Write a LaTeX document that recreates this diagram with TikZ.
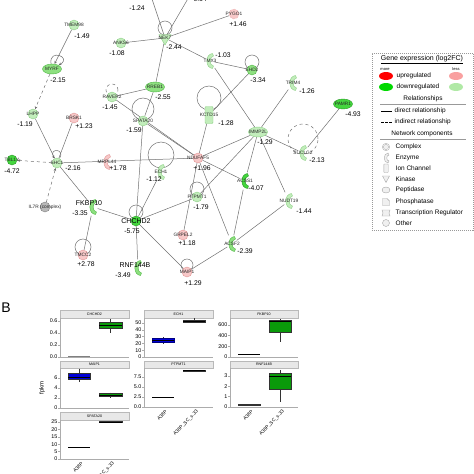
\documentclass[tikz,border=0pt]{standalone}
\usepackage{fontspec}
\setmainfont{Liberation Sans}
\usetikzlibrary{positioning,shapes.geometric,arrows.meta,backgrounds}
\definecolor{lg}{HTML}{C2EDBB}
\definecolor{lgd}{HTML}{8CCF85}
\definecolor{mg}{HTML}{8EE080}
\definecolor{mgd}{HTML}{4FB545}
\definecolor{dg}{HTML}{44D63E}
\definecolor{dgd}{HTML}{2A9A26}
\definecolor{pk}{HTML}{F7C8C8}
\definecolor{pkd}{HTML}{E09494}
\definecolor{lnc}{HTML}{707070}
\definecolor{blu}{HTML}{0000D8}
\definecolor{grn}{HTML}{0A9A0A}

\begin{document}
\begin{tikzpicture}[x=1pt, y=-1pt,
    >={Stealth[length=3pt,width=2.6pt]},
    lnk/.style={draw=lnc, line width=0.5pt},
    up1/.style={fill=pk, draw=pkd},
    dn1/.style={fill=lg, draw=lgd},
    dn2/.style={fill=mg, draw=mgd},
    dn3/.style={fill=dg, draw=dgd},
    cpx/.style={fill=gray!55, draw=gray},
    gtxt/.style={font=\fontsize{4.8}{5}\selectfont, text=black!85, inner sep=0pt},
    btxt/.style={font=\fontsize{7}{8}\selectfont, inner sep=0pt},
    val/.style={font=\fontsize{6.8}{8}\selectfont, inner sep=0pt},
    oth/.style={circle, minimum size=10pt, inner sep=0pt, line width=0.4pt},
    pep/.style={ellipse, minimum width=19pt, minimum height=10pt, inner sep=0pt, line width=0.4pt},
    ion/.style={rectangle, rounded corners=1pt, minimum width=8pt, minimum height=17pt, inner sep=0pt, line width=0.4pt},
    kin/.style={regular polygon, regular polygon sides=3, shape border rotate=180, minimum size=14pt, inner sep=0pt, line width=0.4pt},
    enz/.style={rectangle, minimum width=9pt, minimum height=17pt, inner sep=0pt,
      path picture={\filldraw[#1, line width=0.4pt, shift={(path picture bounding box.center)}]
        (2.5,7.5) .. controls (-5,7) and (-5,-7) .. (2.5,-7.5) -- (3.5,-5) .. controls (-1,-4.5) and (-1,4.5) .. (3.5,5) -- cycle;}},
    ltxt/.style={font=\fontsize{6.5}{7}\selectfont, inner sep=0.5pt},
    icon/.style={draw=gray!70, fill=gray!12, line width=0.4pt},
    strip/.style={fill=gray!18, draw=gray!55, line width=0.4pt},
    stxt/.style={font=\fontsize{3.6}{4}\selectfont, inner sep=0pt},
    axl/.style={draw=gray!65, line width=0.5pt},
    tkl/.style={font=\fontsize{5.4}{6}\selectfont, anchor=east, inner sep=0.5pt},
    xlab/.style={font=\fontsize{4.8}{5}\selectfont, rotate=45, anchor=north east, inner sep=0.3pt},
    bx/.style={draw=black!80, line width=0.35pt},
    med/.style={draw=black, line width=0.9pt}
  ]
  \useasboundingbox (0,0) rectangle (474,474);

  % network genes
  \node[oth, dn1] (topa) at (150,-7) {};
  \node[val] (topav) at (137,8) {-1.24};
  \node[oth, dn1] (topb) at (193,-10) {};
  \node[val] (topbv) at (199,-1) {-0.64};
  \node[oth, dn1, label={[gtxt]center:TMEM98}] (tmem) at (74,25) {};
  \node[val] (tmemv) at (82,36) {-1.49};
  \node[pep, dn2, label={[gtxt]center:MYRF}] (myrf) at (52,69) {};
  \node[val] (myrfv) at (58,80) {-2.15};
  \node[oth, dn1, label={[gtxt]center:LHPP}] (lhpp) at (33,114) {};
  \node[val] (lhppv) at (25,124) {-1.19};
  \node[oth, up1, label={[gtxt]center:BRSK1}] (brsk) at (74,118) {};
  \node[val] (brskv) at (84,126) {+1.23};
  \node[oth, dn1, label={[gtxt]center:ANKS6}] (anks) at (121,43) {};
  \node[val] (anksv) at (117,53) {-1.08};
  \node[oth, dn1, label={[gtxt]center:RAVER2}] (raver) at (112,97) {};
  \node[val] (raverv) at (110,107) {-1.45};
  \node[oth, dn1, label={[gtxt]center:SPATA20}] (spata) at (143,121) {};
  \node[val] (spatav) at (134,130) {-1.59};
  \node[pep, dn2, label={[gtxt]center:RREB1}] (rreb) at (155,87) {};
  \node[val] (rrebv) at (163,97) {-2.55};
  \node[kin, dn1, label={[gtxt]center:NEK7}] (nek) at (165,38) {};
  \node[val] (nekv) at (174,47) {-2.44};
  \node[oth, up1, densely dotted, label={[gtxt]center:PYGO1}] (pygo) at (234,14) {};
  \node[val] (pygov) at (238,24) {+1.46};
  \node[enz=dn1, label={[gtxt]center:TMX3}] (tmx) at (210,61) {};
  \node[val] (tmxv) at (223,55) {-1.03};
  \node[oth, dn2, label={[gtxt]center:EHD2}] (ehd) at (252,70) {};
  \node[val] (ehdv) at (258,80) {-3.34};
  \node[enz=dn1, label={[gtxt]center:TRIM4}] (trim) at (293,83) {};
  \node[val] (trimv) at (307,91) {-1.26};
  \node[ion, dn1, label={[gtxt]center:KCTD15}] (kctd) at (209,115) {};
  \node[val] (kctdv) at (226,123) {-1.28};
  \node[pep, dn1, label={[gtxt]center:IMMP2L}] (immp) at (258,132) {};
  \node[val] (immpv) at (265,142) {-1.29};
  \node[enz=dn1, label={[gtxt]center:SUCLG2}] (sucl) at (303,153) {};
  \node[val] (suclv) at (317,160) {-2.13};
  \node[pep, dn3, label={[gtxt]center:PAMR1}] (pamr) at (343,104) {};
  \node[val] (pamrv) at (353,114) {-4.93};
  \node[oth, up1, label={[gtxt]center:NDUFAF5}] (nduf) at (198,158) {};
  \node[val] (ndufv) at (202,168) {+1.96};
  \node[enz=dn1, label={[gtxt]center:ECH1}] (ech) at (161,172) {};
  \node[val] (echv) at (154,179) {-1.12};
  \node[enz=dn3, label={[gtxt]center:ACSS1}] (acss) at (245,181) {};
  \node[val] (acssv) at (256,188) {-4.07};
  \node[oth, dn1, label={[gtxt]center:PTPMT1}] (ptpm) at (197,197) {};
  \node[val] (ptpmv) at (201,207) {-1.79};
  \node[enz=dn1, label={[gtxt]center:NUDT19}] (nudt) at (289,201) {};
  \node[val] (nudtv) at (304,211) {-1.44};
  \node[oth, up1, label={[gtxt]center:GRPEL2}] (grpe) at (183,235) {};
  \node[val] (grpev) at (187,243) {+1.18};
  \node[enz=dn2, label={[gtxt]center:ACSF2}] (acsf) at (232,244) {};
  \node[val] (acsfv) at (245,251) {-2.39};
  \node[oth, up1, label={[gtxt]center:MAIP1}] (maip) at (187,272) {};
  \node[val] (maipv) at (193,283) {+1.29};
  \node[oth, dn3, label={[gtxt]center:TBL1Y}] (tbl) at (12,160) {};
  \node[val] (tblv) at (12,171) {-4.72};
  \node[oth, dn1, label={[gtxt]center:SHC1}] (shc) at (57,163) {};
  \node[val] (shcv) at (73,168) {-2.16};
  \node[enz=up1, label={[gtxt]center:MRPL44}] (mrpl) at (107,162) {};
  \node[val] (mrplv) at (118,168) {+1.78};
  \node[oth, cpx, label={[gtxt]center:IL7R (complex)}] (il7r) at (45,207) {};
  \node[enz=dn2, label={[btxt, xshift=-4pt, yshift=4pt]center:FKBP10}] (fkbp) at (93,207) {};
  \node[val] (fkbpv) at (80,213) {-3.35};
  \node[oth, dn3, label={[btxt]center:CHCHD2}] (chch) at (136,221) {};
  \node[val] (chchv) at (132,231) {-5.75};
  \node[oth, up1, label={[gtxt]center:TMCC2}] (tmcc) at (83,255) {};
  \node[val] (tmccv) at (86,264) {+2.78};
  \node[enz=dn2, label={[btxt, xshift=-3pt, yshift=3pt]center:RNF144B}] (rnf) at (138,268) {};
  \node[val] (rnfv) at (123,275) {-3.49};

  \begin{scope}[on background layer]
    \path[lnk] (topa) edge (nek)
      (topb) edge (nek)
      (nek) edge (anks)
      (nek) edge (pygo)
      (nek) edge (tmx)
      (nek) edge (rreb)
      (rreb) edge (raver)
      (rreb) edge (spata)
      (tmx) edge (ehd)
      (tmx) edge (immp)
      (ehd) edge (kctd)
      (trim) edge (immp)
      (kctd) edge (nduf)
      (immp) edge (sucl)
      (immp) edge (nduf)
      (immp) edge (ptpm)
      (immp) edge (acss)
      (immp) edge (nudt)
      (sucl) edge (pamr)
      (raver) edge (nduf)
      (spata) edge (nduf)
      (spata) edge (chch)
      (shc) edge (nduf)
      (nduf) edge (acss)
      (nduf) edge (acsf)
      (nduf) edge (grpe)
      (acss) edge (acsf)
      (acsf) edge (maip)
      (acsf) edge (nudt)
      (ech) edge (chch)
      (ptpm) edge (chch)
      (chch) edge (maip)
      (chch) edge (rnf)
      (chch) edge (fkbp)
      (fkbp) edge (shc)
      (fkbp) edge (tmcc)
      (lhpp) edge (shc)
      (brsk) edge (shc);
    \path[lnk, ->] (tmem) edge (myrf)
      (myrf) edge[out=100, in=30, min distance=16pt] (myrf)
      (shc) edge[out=60, in=120, min distance=12pt] (shc);
    \path[lnk, dashed, ->] (myrf) edge (lhpp)
      (shc) edge (tbl)
      (il7r) edge (shc);
    % self loops
    \draw[lnk] ([yshift=10pt]nek.center) circle (7pt);
    \draw[lnk] ([yshift=8pt]ehd.center) circle (7pt);
    \draw[lnk] ([yshift=17pt]kctd.center) circle (12pt);
    \draw[lnk] ([yshift=12pt]spata.center) circle (11pt);
    \draw[lnk, dashed] ([yshift=7pt]raver.center) circle (6pt);
    \draw[lnk, dashed] ([yshift=14pt]sucl.center) circle (15pt);
    \draw[lnk] ([yshift=17pt]ech.center) circle (13pt);
    \draw[lnk] ([yshift=8pt]ptpm.center) circle (7pt);
    \draw[lnk] ([yshift=7pt]maip.center) circle (6pt);
    \draw[lnk] ([yshift=9pt]chch.center) circle (7pt);
    \draw[lnk] ([yshift=8pt]tmcc.center) circle (8pt);
  \end{scope}

  % legend
  \node[draw=gray!80, dash pattern=on 1pt off 1pt, minimum width=101pt, minimum height=177pt, anchor=north west, inner sep=0pt] (legend) at (372,53) {};
  \node[ltxt, font=\fontsize{7}{8}\selectfont] (lgtitle) at (422,60) {\underline{Gene expression (log2FC)}};
  \node[ltxt, font=\fontsize{4}{4}\selectfont] (lgmore) at (385,69) {more};
  \node[ltxt, font=\fontsize{4}{4}\selectfont] (lgless) at (456,69) {less};
  \node[ellipse, fill=red, minimum width=14pt, minimum height=8pt, inner sep=0pt] (lgred) at (386,76) {};
  \node[ltxt, anchor=west] (lgup) at (396,76) {upregulated};
  \node[ellipse, fill=pk!80!red, minimum width=14pt, minimum height=8pt, inner sep=0pt] (lgpink) at (456,76) {};
  \node[ellipse, fill=green!85!black, minimum width=14pt, minimum height=8pt, inner sep=0pt] (lggreen) at (386,87) {};
  \node[ltxt, anchor=west] (lgdown) at (396,87) {downregulated};
  \node[ellipse, fill=mg!70!white, minimum width=14pt, minimum height=8pt, inner sep=0pt] (lglight) at (456,87) {};
  \node[ltxt] (lgrel) at (423,99) {Relationships};
  \draw[gray!80] (380,104) -- (466,104);
  \coordinate (dirA) at (381,111);
  \coordinate (dirB) at (392,111);
  \draw[line width=0.7pt] (dirA) -- (dirB);
  \node[ltxt, anchor=west] (lgdir) at (394,111) {direct relationship};
  \coordinate (indA) at (381,122);
  \coordinate (indB) at (392,122);
  \draw[line width=0.7pt, dash pattern=on 2.5pt off 1.5pt] (indA) -- (indB);
  \node[ltxt, anchor=west] (lgind) at (394,122) {indirect relationship};
  \node[ltxt] (lgnet) at (422,134) {Network components};
  \draw[gray!80] (380,139) -- (466,139);
  \draw[icon, double=white, double distance=0.5pt] (386,147) circle (3.2pt);
  \node[ltxt, anchor=west] (lgcpx) at (395,147) {Complex};
  \draw[icon] (388,153) .. controls (383,153.5) and (383,162.5) .. (388,163) -- (389,161) .. controls (386,161) and (386,155) .. (389,155) -- cycle;
  \node[ltxt, anchor=west] (lgenz) at (395,158) {Enzyme};
  \draw[icon, rounded corners=0.6pt] (383.8,164) rectangle (388.2,172.5);
  \node[ltxt, anchor=west] (lgion) at (395,168) {Ion Channel};
  \draw[icon] (382.5,176) -- (389.5,176) -- (386,182.5) -- cycle;
  \node[ltxt, anchor=west] (lgkin) at (395,179) {Kinase};
  \draw[icon] (386,190) ellipse (4pt and 3pt);
  \node[ltxt, anchor=west] (lgpep) at (395,190) {Peptidase};
  \draw[icon] (382.5,198.5) -- (387,198.5) -- (389.5,201) -- (389.5,205.5) -- (382.5,205.5) -- cycle;
  \node[ltxt, anchor=west] (lgpho) at (395,202) {Phosphatase};
  \draw[icon] (382,210) -- (390,210) -- (389,213) -- (390,216) -- (382,216) -- (383,213) -- cycle;
  \node[ltxt, anchor=west] (lgtr) at (395,213) {Transcription Regulator};
  \draw[icon] (386,223) circle (3.5pt);
  \node[ltxt, anchor=west] (lgoth) at (395,223) {Other};

  % panel B
  \node[font=\fontsize{14}{14}\selectfont, inner sep=0pt] (panelB) at (6,308) {B};
  \node[font=\fontsize{6}{7}\selectfont, rotate=90, inner sep=0pt] (fpkm) at (42,388) {fpkm};

  % CHCHD2
  \draw[strip] (60,310) rectangle (129,318);
  \node[stxt] (sChch) at (94.5,314) {CHCHD2};
  \draw[axl] (60,318) -- (60,357) -- (129,357);
  \foreach \yy/\tt [count=\k] in {357/0.0,345/0.2,333/0.4,321/0.6}
    {\draw[axl] (58,\yy) -- (60,\yy); \node[tkl] (ya\k) at (58,\yy) {\tt};}
  \draw[gray, line width=0.9pt] (68,356) -- (90,356);
  \draw[bx] (110.5,319.2) -- (110.5,333);
  \draw[bx, fill=grn] (99,322.2) rectangle (122,328.2);
  \draw[med] (99,325.2) -- (122,325.2);

  % ECH1
  \draw[strip] (144,310) rectangle (213,318);
  \node[stxt] (sEch) at (178.5,314) {ECH1};
  \draw[axl] (144,318) -- (144,357) -- (213,357);
  \foreach \yy/\tt [count=\k] in {357/0,350.2/10,343.4/20,336.6/30,329.8/40,323/50}
    {\draw[axl] (142,\yy) -- (144,\yy); \node[tkl] (yb\k) at (142,\yy) {\tt};}
  \draw[bx] (163,337) -- (163,343.6);
  \draw[draw=blu!60!black, line width=0.3pt, fill=blu] (152,337.8) rectangle (174,342.6);
  \draw[med, line width=0.5pt] (152,340.3) -- (174,340.3);
  \draw[bx] (194,318.2) -- (194,322.7);
  \draw[bx, fill=grn] (183,319.8) rectangle (205,322.6);
  \draw[med, line width=0.6pt] (183,321.4) -- (205,321.4);

  % FKBP10
  \draw[strip] (230,310) rectangle (298,318);
  \node[stxt] (sFkbp) at (264,314) {FKBP10};
  \draw[axl] (230,318) -- (230,357) -- (298,357);
  \foreach \yy/\tt [count=\k] in {357/0,346.3/200,335.7/400,325/600}
    {\draw[axl] (228,\yy) -- (230,\yy); \node[tkl] (yc\k) at (228,\yy) {\tt};}
  \draw[med, line width=1.3pt] (238,354.3) -- (260,354.3);
  \draw[bx] (280,319.1) -- (280,342.1);
  \draw[bx, fill=grn] (269,320.2) rectangle (291,331.9);
  \draw[med] (269,321.3) -- (291,321.3);

  % MAIP1
  \draw[strip] (60,361) rectangle (129,368);
  \node[stxt] (sMaip) at (94.5,364.5) {MAIP1};
  \draw[axl] (60,368) -- (60,408) -- (129,408);
  \foreach \yy/\tt [count=\k] in {408/0,398/2,388/4,378/6}
    {\draw[axl] (58,\yy) -- (60,\yy); \node[tkl] (yd\k) at (58,\yy) {\tt};}
  \draw[bx] (79,368.5) -- (79,381.5);
  \draw[bx, fill=blu] (68,373.5) rectangle (90,379.5);
  \draw[med] (68,377.5) -- (90,377.5);
  \draw[bx] (110.5,392.5) -- (110.5,398);
  \draw[bx, fill=grn] (99,393.5) rectangle (122,396.5);
  \draw[med] (99,395) -- (122,395);

  % PTPMT1
  \draw[strip] (144,361) rectangle (213,368);
  \node[stxt] (sPtpm) at (178.5,364.5) {PTPMT1};
  \draw[axl] (144,368) -- (144,407) -- (213,407);
  \foreach \yy/\tt [count=\k] in {407/0.0,397/2.5,387/5.0,377/7.5}
    {\draw[axl] (142,\yy) -- (144,\yy); \node[tkl] (ye\k) at (142,\yy) {\tt};}
  \draw[med] (152,397) -- (174,397);
  \draw[bx, fill=grn] (183,370) rectangle (205,371.6);
  \draw[med] (183,370.8) -- (205,370.8);

  % RNF144B
  \draw[strip] (230,361) rectangle (298,368);
  \node[stxt] (sRnf) at (264,364.5) {RNF144B};
  \draw[axl] (230,368) -- (230,407) -- (298,407);
  \foreach \yy/\tt [count=\k] in {407/0,396.7/1,386.3/2,376/3}
    {\draw[axl] (228,\yy) -- (230,\yy); \node[tkl] (yf\k) at (228,\yy) {\tt};}
  \draw[bx, fill=black] (238,403.9) rectangle (260,405.5);
  \draw[bx] (280,369.8) -- (280,402.4);
  \draw[bx, fill=grn] (269,372.9) rectangle (291,389.4);
  \draw[med] (269,376) -- (291,376);

  % SPATA20
  \draw[strip] (60,412) rectangle (129,420);
  \node[stxt] (sSpata) at (94.5,416) {SPATA20};
  \draw[axl] (60,420) -- (60,459) -- (129,459);
  \foreach \yy/\tt [count=\k] in {459/0,451.6/5,444.2/10,436.8/15,429.4/20,422/25}
    {\draw[axl] (58,\yy) -- (60,\yy); \node[tkl] (yg\k) at (58,\yy) {\tt};}
  \draw[med] (68,447) -- (90,447);
  \draw[bx, fill=grn] (99,421.3) rectangle (122,422.6);
  \draw[med] (99,422) -- (122,422);

  % x labels
  \node[xlab] (xa1) at (81,461) {A38P};
  \node[xlab] (xa2) at (112,461) {A38P\_SC\_s.33};
  \node[xlab] (xb1) at (165,409) {A38P};
  \node[xlab] (xb2) at (196,409) {A38P\_SC\_s.33};
  \node[xlab] (xc1) at (251,409) {A38P};
  \node[xlab] (xc2) at (282,409) {A38P\_SC\_s.33};
\end{tikzpicture}
\end{document}
